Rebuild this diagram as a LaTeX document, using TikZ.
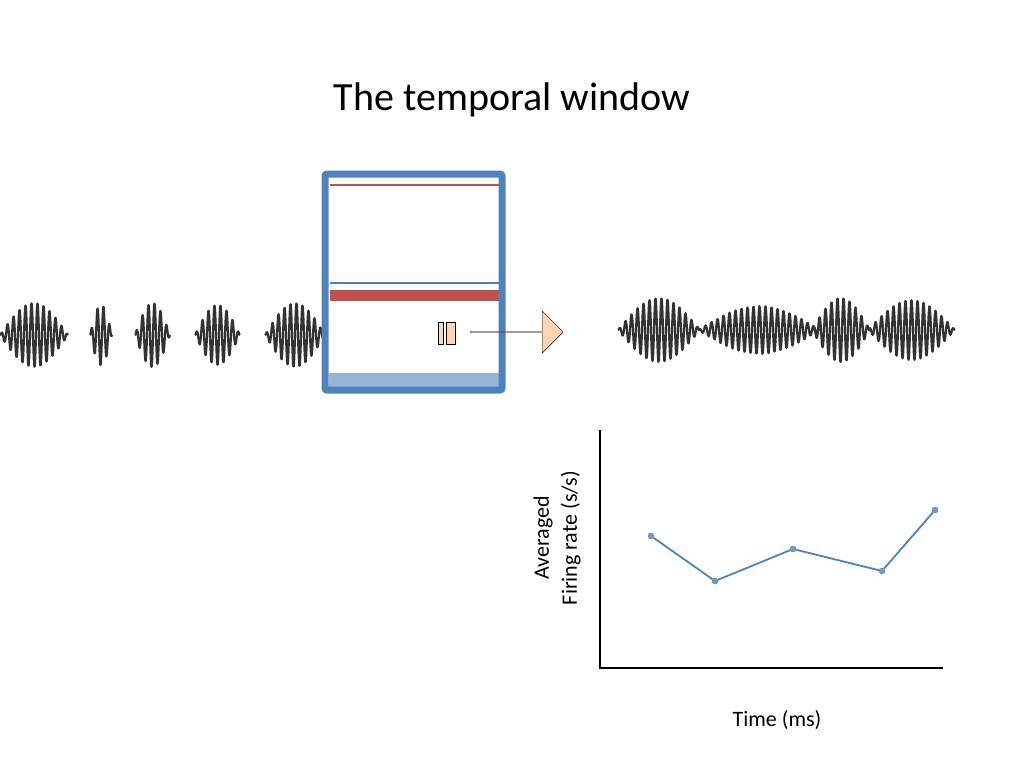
\documentclass[tikz,border=0pt]{standalone}
\usepackage{fontspec}
\setmainfont{Carlito}
\usetikzlibrary{shapes.arrows}
\definecolor{wblue}{RGB}{79,129,189}
\definecolor{wred}{RGB}{192,80,77}
\definecolor{peach}{RGB}{251,213,181}
\tikzset{wave/.style={line width=2.2pt,black!80,line join=round},
  pt/.style={circle,fill=wblue!80,draw=wblue,inner sep=0pt,minimum size=6pt}}
% #1 start x, #2 width, #3 centre y, #4 amplitude
\newcommand{\burst}[4]{\draw[wave] plot[domain=0:#2,samples=160,smooth] ({\x+#1},{#3-#4*sin((180/#2)*\x)*sin(60*\x)});}
\begin{document}
\begin{tikzpicture}[x=1pt,y=-1pt]
\useasboundingbox (0,0) rectangle (1024,768);
\node[font=\fontsize{40}{48}\selectfont] (title) at (512,100) {The temporal window};
% left bursts
\burst{0}{68}{335}{32}
\burst{90}{22}{335}{30}
\burst{135}{35}{335}{32}
\burst{195}{45}{335}{30}
\burst{265}{60}{335}{32}
% right continuous
\burst{618}{82}{330}{32}
\burst{698}{122}{330}{24}
\burst{812}{58}{330}{32}
\burst{868}{87}{330}{30}
% window
\fill[white] (329,176) rectangle (499,388);
\draw[wblue,line width=1.5pt] (330,283) -- (499,283);
\draw[wred,line width=1.5pt] (330,185) -- (505,185);
\fill[wred] (330,290) rectangle (501,301);
\fill[wblue!60] (329,373) rectangle (499,387);
\draw[wblue,line width=7pt,rounded corners=2pt] (325,174) rectangle (502,390);
% arrow
\node[single arrow,draw=black,fill=peach,minimum height=93pt,minimum width=42pt,single arrow head extend=9pt,inner sep=0pt,anchor=west] (arr) at (470,332) {};
\draw[fill=peach] (438,322) rectangle (443,344);
\draw[fill=peach] (446,322) rectangle (455,344);
% plot
\coordinate (o) at (600,668);
\draw[line width=1.2pt] (600,430) -- (o) -- (943,668);
\node[pt] (p1) at (651,536) {};
\node[pt] (p2) at (715,581) {};
\node[pt] (p3) at (793,549) {};
\node[pt] (p4) at (882,571) {};
\node[pt] (p5) at (935,510) {};
\draw[wblue,line width=1.8pt] (p1)--(p2)--(p3)--(p4)--(p5);
\node[rotate=90,align=center,font=\fontsize{22}{28}\selectfont] (yl) at (557,538) {Averaged\\Firing rate (s/s)};
\node[font=\fontsize{22}{26}\selectfont] (xl) at (777,720) {Time (ms)};
\end{tikzpicture}
\end{document}
